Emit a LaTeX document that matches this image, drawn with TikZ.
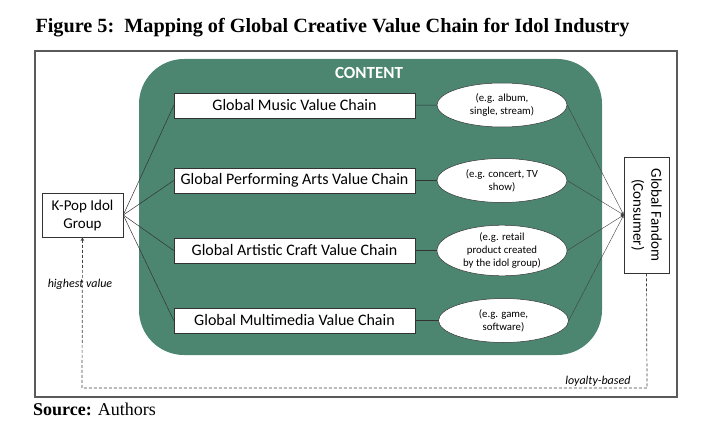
\documentclass[tikz,border=0pt]{standalone}
\usepackage{fontspec}
\setmainfont{Carlito}
\newfontfamily\timesfont{Liberation Serif}
\usepackage{tikz}
\usetikzlibrary{shapes.geometric, arrows}
\definecolor{contentgreen}{RGB}{76,134,113}
\definecolor{framegray}{RGB}{90,90,90}

\begin{document}
\begin{tikzpicture}[x=1pt, y=-1pt]
% Define styles
\tikzstyle{chain} = [rectangle, minimum width=241pt, minimum height=25pt, inner sep=0pt, align=center, draw=black!80, line width=0.5pt, fill=white, font=\fontsize{16}{18}\selectfont]
\tikzstyle{example} = [ellipse, minimum width=130pt, minimum height=44pt, inner sep=0pt, align=center, draw=black!80, line width=0.5pt, fill=white, font=\fontsize{10.8}{13}\selectfont]
\tikzstyle{actor} = [rectangle, inner sep=0pt, align=center, draw=black!80, line width=0.5pt, fill=white, font=\fontsize{15}{18}\selectfont]
\tikzstyle{arrow} = [->,>=stealth,line width=0.4pt, draw=black!75]
\tikzstyle{link} = [line width=0.5pt, draw=black!80]
\tikzstyle{loop} = [->,>=stealth,dash pattern=on 3pt off 2pt,line width=0.7pt, draw=black!75]
\useasboundingbox (0,0) rectangle (714,425);
% Frame and content area
\draw [framegray, line width=1.2pt] (35,51) rectangle (677,397);
\fill [contentgreen, rounded corners=45pt] (139,59) rectangle (602,355);
% Place nodes
\node (title) [anchor=west, font=\timesfont\bfseries\fontsize{20.2}{23}\selectfont] at (32,28) {Figure 5:\ \ Mapping of Global Creative Value Chain for Idol Industry};
\node (source) [anchor=base west, inner sep=0pt, font=\timesfont\fontsize{18}{21}\selectfont] at (33,415) {\textbf{Source:} Authors};
\node (content) [text=white, font=\bfseries\fontsize{17}{19}\selectfont] at (369,73) {CONTENT};
\node (kpop) [actor, minimum width=81pt, minimum height=44pt] at (82.5,215) {K-Pop Idol\\Group};
\node (fandom) [actor, minimum width=116pt, minimum height=45pt, rotate=-90] at (646.5,215) {Global Fandom\\(Consumer)};
\node (music) [chain] at (294.5,105.5) {Global Music Value Chain};
\node (arts) [chain] at (294.5,180.5) {Global Performing Arts Value Chain};
\node (craft) [chain] at (294.5,250.5) {Global Artistic Craft Value Chain};
\node (media) [chain] at (294.5,320.5) {Global Multimedia Value Chain};
\node (e1) [example] at (502,105) {(e.g. album,\\single, stream)};
\node (e2) [example] at (502,180.5) {(e.g. concert, TV\\show)};
\node (e3) [example] at (502,250.5) {(e.g. retail\\product created\\by the idol group)};
\node (e4) [example] at (503.5,320.5) {(e.g. game,\\software)};
\node (high) [font=\itshape\fontsize{12}{14}\selectfont] at (80,284) {highest value};
\node (loyal) [anchor=east, font=\itshape\fontsize{12}{14}\selectfont] at (634,381) {loyalty-based};
\coordinate (c1) at (647,388);
\coordinate (c2) at (82,388);
% Draw arrows
\draw [link] (kpop.east) -- (music.west);
\draw [link] (kpop.east) -- (arts.west);
\draw [link] (kpop.east) -- (craft.west);
\draw [link] (kpop.east) -- (media.west);
\draw [link] (music) -- (e1);
\draw [link] (arts) -- (e2);
\draw [link] (craft) -- (e3);
\draw [link] (media) -- (e4);
\draw [arrow] (e1.east) -- (fandom.south);
\draw [arrow] (e2.east) -- (fandom.south);
\draw [arrow] (e3.east) -- (fandom.south);
\draw [arrow] (e4.east) -- (fandom.south);
\draw [loop] (fandom.east) -- (c1) -- (c2) -- (kpop.south);
\end{tikzpicture}
\end{document}
